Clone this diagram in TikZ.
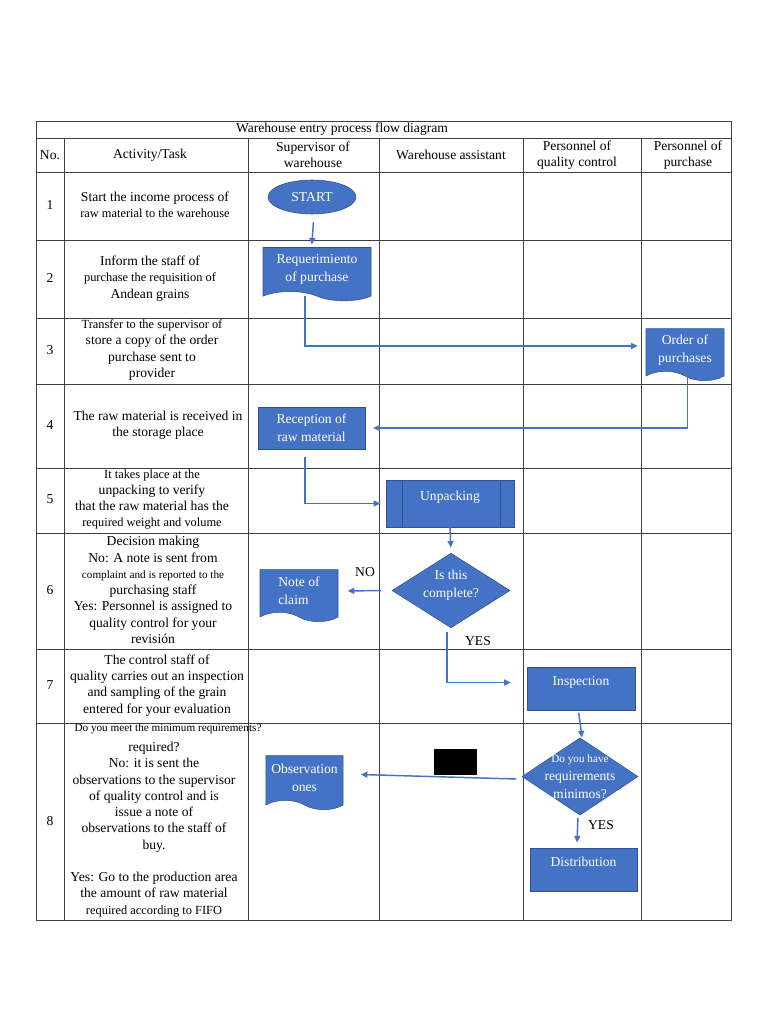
\documentclass[tikz,border=0pt]{standalone}
\usepackage{fontspec}
\setmainfont{Liberation Serif}
\usetikzlibrary{shapes.geometric, shapes.symbols, positioning, arrows.meta, calc}

\definecolor{boxblue}{HTML}{4472C4}
\definecolor{boxedge}{HTML}{2F528F}

\newcommand{\txt}{\fontsize{10.2}{12.2}\selectfont}
\newcommand{\smtxt}{\fontsize{9.3}{12.2}\selectfont}
\newcommand{\tinytxt}{\fontsize{8.4}{12.2}\selectfont}
\newcommand{\boxtxt}{\fontsize{10.2}{13.5}\selectfont}

\begin{document}
\begin{tikzpicture}[x=0.75pt, y=-0.75pt, font=\txt,
  tablerule/.style={draw=black!75, line width=0.6pt},
  cell/.style={align=center, inner sep=0pt},
  proc/.style={rectangle, draw=boxedge, fill=boxblue, text=white, align=center, inner sep=1pt, font=\boxtxt},
  doc/.style={tape, tape bend top=none, tape bend bottom=out and in, tape bend height=7pt, draw=boxedge, fill=boxblue, text=white, align=center, inner sep=1pt, font=\boxtxt},
  decision/.style={diamond, draw=boxedge, fill=boxblue, inner sep=0pt},
  boxlabel/.style={text=white, align=center, font=\boxtxt, inner sep=0pt},
  raised/.style={text depth=11pt},
  flow/.style={draw=boxblue, line width=1.1pt, -{Triangle[length=5pt, width=4.5pt]}},
]
\useasboundingbox (0,0) rectangle (768,1024);

% table
\draw[tablerule] (36,121) rectangle (731,920);
\draw[tablerule] (36,138) -- (731,138);
\foreach \y in {172,240,318,384,468,533,649,723}
  \draw[tablerule] (36,\y) -- (731,\y);
\foreach \x in {64,248,379,523,641}
  \draw[tablerule] (\x,138) -- (\x,920);

% header
\node[cell] (title) at (342,129) {Warehouse entry process flow diagram};
\node[cell] (hno) at (50,155) {No.};
\node[cell] (htask) at (150,155) {Activity/Task};
\node[cell] (hsup) at (313,155) {Supervisor of\\warehouse};
\node[cell] (hasst) at (451,155) {Warehouse assistant};
\node[cell] (hqual) at (577,155) {Personnel of\\quality control};
\node[cell] (hpur) at (688,155) {Personnel of\\purchase};

\foreach \n/\y in {1/205,2/278,3/350,4/425,5/499,6/590,7/685,8/821}
  \node[cell] (no\n) at (50,\y) {\n};

% activities
\node[cell] (task1) at (155,205) {Start the income process of\\{\smtxt raw material to the warehouse}};
\node[cell] (task2) at (150,278.5) {Inform the staff of\\{\smtxt purchase the requisition of}\\Andean grains};
\node[cell] (task3) at (152,350) {{\smtxt Transfer to the supervisor of}\\store a copy of the order\\purchase sent to\\provider};
\node[cell] (task4) at (158,425.5) {The raw material is received in\\the storage place};
\node[cell] (task5) at (152,499.5) {{\smtxt It takes place at the}\\unpacking to verify\\that the raw material has the\\{\smtxt required weight and volume}};
\node[cell] (task6) at (153,590) {Decision making\\No: A note is sent from\\{\tinytxt complaint and is reported to the}\\purchasing staff\\Yes: Personnel is assigned to\\quality control for your\\revisión};
\node[cell] (task7) at (157,685.5) {The control staff of\\quality carries out an inspection\\and sampling of the grain\\entered for your evaluation};
\node[cell, font=\tinytxt] (task8a) at (168,729) {Do you meet the minimum requirements?};
\node[cell] (task8) at (154,829.5) {required?\\No: it is sent the\\observations to the supervisor\\of quality control and is\\issue a note of\\observations to the staff of\\buy.\\[12.2pt]Yes: Go to the production area\\the amount of raw material\\{\smtxt required according to FIFO}};

% flow shapes
\node[proc, ellipse, minimum width=66pt, minimum height=25.5pt] (start) at (312,197) {START};
\node[doc, minimum width=81pt, minimum height=40pt] (req) at (317,269.5) {Requerimiento\\of purchase};
\node[doc, minimum width=58.5pt, minimum height=39pt] (order) at (685,350) {Order of\\purchases};
\node[proc, minimum width=80pt, minimum height=31.5pt] (recep) at (311.5,428) {Reception of\\raw material};
\node[proc, raised, minimum width=96pt, minimum height=35pt,
  path picture={
    \draw[boxedge] ([xshift=12pt]path picture bounding box.north west) -- ([xshift=12pt]path picture bounding box.south west);
    \draw[boxedge] ([xshift=-10pt]path picture bounding box.north east) -- ([xshift=-10pt]path picture bounding box.south east);
  }] (unpack) at (450,503.5) {Unpacking};
\node[decision, minimum width=88.5pt, minimum height=56pt,
  label={[boxlabel, yshift=4pt]center:{Is this\\complete?}}] (check) at (451,590.5) {};
\node[doc, align=left, minimum width=58.5pt, minimum height=39pt] (claim) at (299,591) {Note of\\claim};
\node[proc, raised, minimum width=81pt, minimum height=32pt] (insp) at (581,688.5) {Inspection};
\node[decision, minimum width=87pt, minimum height=58pt,
  label={[boxlabel]center:{{\tinytxt Do you have}\\requirements\\minimos?}}] (reqcheck) at (580,776.5) {};
\node[doc, minimum width=58pt, minimum height=40.5pt] (obs) at (304.5,778) {Observation\\ones};
\node[proc, raised, minimum width=80pt, minimum height=32pt] (dist) at (583.5,869.5) {Distribution};

\fill[black] (434,749) rectangle (477,775);

% connectors
\draw[flow, shorten <=6pt, shorten >=2pt] ([xshift=1.5pt]start.south) -- ([xshift=-4pt]req.north);
\draw[flow, shorten <=3pt, shorten >=6pt] ([xshift=-9pt]req.south) |- ([yshift=3pt]order.west);
\draw[flow, shorten <=2pt, shorten >=6pt] ([xshift=2pt]order.south) |- (recep.east);
\draw[flow, shorten <=6pt, shorten >=4pt] ([xshift=-5pt]recep.south) |- (unpack.west);
\draw[flow, shorten >=4pt] (unpack.south) -- (check.north);
\draw[flow, shorten <=8pt, shorten >=7pt] (check.west) -- (claim.east);
\node (no) at (365,572) {NO};
\draw[flow, shorten <=3pt, shorten >=12pt] ([xshift=-3pt]check.south) |- ([yshift=4.5pt]insp.west);
\node (yes1) at (478,641) {YES};
\draw[flow, shorten <=2pt] ([xshift=-2pt]insp.south) -- ([xshift=1.5pt]reqcheck.north);
\draw[flow, shorten <=4pt, shorten >=13pt] ([yshift=-2pt]reqcheck.west) -- ([yshift=3pt]obs.east);
\draw[flow, shorten <=2pt, shorten >=4pt] ([xshift=-1.5pt]reqcheck.south) -- ([xshift=-5pt]dist.north);
\node (yes2) at (601,825) {YES};

\end{tikzpicture}
\end{document}
